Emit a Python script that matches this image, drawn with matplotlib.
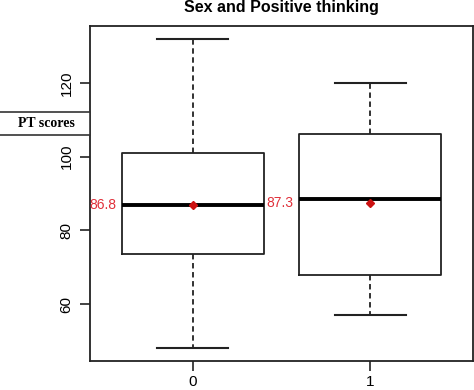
import matplotlib.pyplot as plt

# values
groups = ["0", "1"]
whislo = [48, 57]
q1 = [73.5, 68]
med = [87, 88.5]
q3 = [101, 106]
whishi = [132, 120]
means = [86.8, 87.3]
yticks = [60, 80, 100, 120]

fig = plt.figure(figsize=(4.74, 3.9), dpi=100)
ax = fig.add_axes([0.19, 0.0744, 0.808, 0.859])

stats = []
for i in range(len(groups)):
    stats.append(dict(label=groups[i], whislo=whislo[i], q1=q1[i], med=med[i],
                      q3=q3[i], whishi=whishi[i], mean=means[i], fliers=[]))

ax.bxp(stats, positions=[1, 2], widths=0.8, showmeans=True, showfliers=False,
       boxprops=dict(color="#222222", linewidth=1.3),
       medianprops=dict(color="black", linewidth=2.8),
       whiskerprops=dict(color="#222222", linewidth=1.3, linestyle=(0, (3, 2))),
       capprops=dict(color="#222222", linewidth=1.5),
       capwidths=0.4,
       meanprops=dict(marker="D", markersize=4, markerfacecolor="#cc1111",
                      markeredgecolor="#cc1111"))

for i, m in enumerate(means):
    ax.text(i + 0.5 - 0.01, m, f"{m}", color="#e0303a", fontsize=10,
            family="Liberation Sans", ha="center", va="center")

ax.set_xlim(0.42, 2.58)
ax.set_ylim(44.6, 135.4)
ax.set_yticks(yticks)
ax.set_yticklabels([str(t) for t in yticks], rotation=90, va="center",
                   family="Liberation Sans", fontsize=11)
ax.set_xticks([1, 2])
ax.set_xticklabels(groups, family="Liberation Sans", fontsize=11)
ax.tick_params(axis="y", length=7, width=1.2, color="#222222", pad=5)
ax.tick_params(axis="x", length=7, width=1.2, color="#222222", pad=3)
for s in ax.spines.values():
    s.set_linewidth(1.3)
    s.set_color("#222222")

ax.set_title("Sex and Positive thinking", fontweight="bold", fontsize=11.5,
             family="Liberation Sans", pad=10)

# label box on the left
fig.add_artist(plt.Rectangle((-0.01, 1 - 135 / 390), 0.2, 23 / 390,
                             transform=fig.transFigure, facecolor="white",
                             edgecolor="#333333", linewidth=1.2))
fig.text(0.097, 1 - 123.5 / 390, "PT scores", family="Liberation Serif",
         fontweight="bold", fontsize=10, ha="center", va="center")

fig.savefig("out.png", dpi=100)
